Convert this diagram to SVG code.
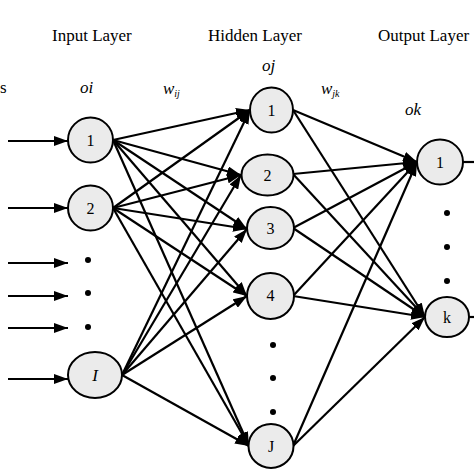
<svg xmlns="http://www.w3.org/2000/svg" width="474" height="474" viewBox="0 0 474 474">
<style>
.n{fill:#ebebeb;stroke:#000;stroke-width:2}
.c line{stroke:#000;stroke-width:2.2;marker-end:url(#ah)}
.p line{stroke:#000;stroke-width:2.2}
text{font-family:"Liberation Serif","Times New Roman",serif;fill:#000}
.t{font-size:17px}
.lb{font-size:16px;text-anchor:middle}
.it{font-style:italic;font-size:17px}
</style>
<defs>
<marker id="ah" markerUnits="userSpaceOnUse" markerWidth="14" markerHeight="10" refX="14" refY="5" orient="auto">
<path d="M0,0 L14,5 L0,10 z" fill="#000"/>
</marker>
</defs>
<rect width="474" height="474" fill="#fff"/>
<text class="t" x="52" y="41">Input Layer</text>
<text class="t" x="208" y="41">Hidden Layer</text>
<text class="t" x="378" y="41">Output Layer</text>
<text class="t" x="0" y="93">s</text>
<text class="it" x="80" y="93">oi</text>
<text class="it" x="163" y="94" font-size="16">w<tspan font-size="10" dy="3">ij</tspan></text>
<text class="it" x="262" y="71">oj</text>
<text class="it" x="321" y="94" font-size="16">w<tspan font-size="10" dy="3">jk</tspan></text>
<text class="it" x="405" y="115">ok</text>
<g class="c" id="connectors">
<line x1="8" y1="141" x2="68" y2="141"/>
<line x1="8" y1="208" x2="68" y2="208"/>
<line x1="8" y1="263" x2="68" y2="263"/>
<line x1="8" y1="296" x2="68" y2="296"/>
<line x1="8" y1="328" x2="68" y2="328"/>
<line x1="8" y1="379" x2="68" y2="379"/>
<line x1="113" y1="140" x2="250" y2="110"/>
<line x1="113" y1="140" x2="241" y2="175"/>
<line x1="113" y1="140" x2="247" y2="229"/>
<line x1="113" y1="140" x2="247" y2="296"/>
<line x1="113" y1="140" x2="249" y2="446"/>
<line x1="113" y1="208" x2="250" y2="110"/>
<line x1="113" y1="208" x2="241" y2="175"/>
<line x1="113" y1="208" x2="247" y2="229"/>
<line x1="113" y1="208" x2="247" y2="296"/>
<line x1="113" y1="208" x2="249" y2="446"/>
<line x1="122" y1="375" x2="250" y2="110"/>
<line x1="122" y1="375" x2="241" y2="175"/>
<line x1="122" y1="375" x2="247" y2="229"/>
<line x1="122" y1="375" x2="247" y2="296"/>
<line x1="122" y1="375" x2="249" y2="446"/>
<line x1="293" y1="110" x2="417" y2="162"/>
<line x1="293" y1="110" x2="425" y2="317"/>
<line x1="293" y1="174" x2="417" y2="162"/>
<line x1="293" y1="174" x2="425" y2="317"/>
<line x1="293" y1="228" x2="417" y2="162"/>
<line x1="293" y1="228" x2="425" y2="317"/>
<line x1="293" y1="296" x2="417" y2="162"/>
<line x1="293" y1="296" x2="425" y2="317"/>
<line x1="293" y1="446" x2="417" y2="162"/>
<line x1="293" y1="446" x2="425" y2="317"/>
</g>
<g class="p">
<line x1="463" y1="162" x2="474" y2="162"/>
<line x1="469" y1="317" x2="474" y2="317"/>
</g>
<g id="input-1"><circle class="n" cx="90.5" cy="140" r="22.5"/><text class="lb" x="90.5" y="146">1</text></g>
<g id="input-2"><circle class="n" cx="90.5" cy="208" r="22.5"/><text class="lb" x="90.5" y="214">2</text></g>
<g id="input-dots"><circle cx="88" cy="260" r="3"/><circle cx="88" cy="293" r="3"/><circle cx="88" cy="327" r="3"/></g>
<g id="input-I"><ellipse class="n" cx="95" cy="375" rx="27" ry="23"/><text class="it" x="95" y="381" text-anchor="middle" font-size="16">I</text></g>
<g id="hidden-1"><ellipse class="n" cx="271.5" cy="110" rx="21.5" ry="22.5"/><text class="lb" x="271.5" y="116">1</text></g>
<g id="hidden-2"><ellipse class="n" cx="267.5" cy="175" rx="26" ry="20.5"/><text class="lb" x="267.5" y="181">2</text></g>
<g id="hidden-3"><ellipse class="n" cx="270.5" cy="228" rx="23.5" ry="21"/><text class="lb" x="270.5" y="234">3</text></g>
<g id="hidden-4"><ellipse class="n" cx="270.5" cy="296" rx="23.5" ry="23"/><text class="lb" x="270.5" y="301" font-size="14">4</text></g>
<g id="hidden-dots"><circle cx="273" cy="345" r="3"/><circle cx="273" cy="378" r="3"/><circle cx="273" cy="412" r="3"/></g>
<g id="hidden-J"><ellipse class="n" cx="271" cy="446" rx="22.5" ry="22"/><text class="lb" x="271" y="452">J</text></g>
<g id="output-1"><ellipse class="n" cx="440" cy="162" rx="23" ry="22.5"/><text class="lb" x="440" y="168">1</text></g>
<g id="output-dots"><circle cx="447" cy="213" r="3"/><circle cx="447" cy="247" r="3"/><circle cx="447" cy="281" r="3"/></g>
<g id="output-k"><ellipse class="n" cx="447" cy="317" rx="22" ry="20"/><text class="lb" x="447" y="323">k</text></g>
</svg>
